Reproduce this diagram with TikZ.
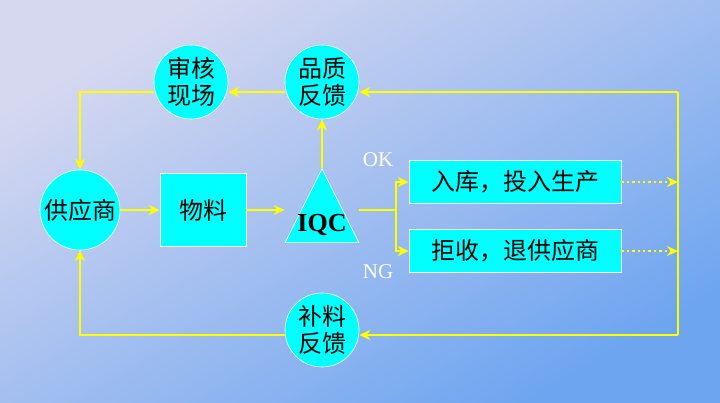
\documentclass[tikz,border=0pt]{standalone}
\usepackage{fontspec}
\setmainfont{Liberation Serif}
\newfontfamily\cjk{Noto Sans CJK SC}
\usetikzlibrary{arrows.meta,shapes.geometric}
\definecolor{ylw}{HTML}{FFFF00}
\definecolor{cyn}{HTML}{00FFFF}
\tikzset{x=1pt,y=-1pt,
 circ/.style={circle,fill=cyn,draw=white,line width=0.6pt,minimum size=74pt,inner sep=0pt,font=\cjk\fontsize{24}{27}\selectfont,align=center},
 boxx/.style={rectangle,fill=cyn,draw=white,line width=0.6pt,font=\cjk\fontsize{24}{27}\selectfont},
 ln/.style={draw=ylw,line width=2.4pt},
 arr/.style={ln,-{Stealth[length=11pt,width=10pt]}},
 dot/.style={draw=ylw,line width=2.4pt,dash pattern=on 2.4pt off 3pt,-{Stealth[length=11pt,width=10pt]}},
 lbl/.style={text=white,font=\fontsize{21}{24}\selectfont}}
\begin{document}
\begin{tikzpicture}
\shade[left color={rgb,255:red,214;green,216;blue,240},right color={rgb,255:red,110;green,165;blue,240},shading angle=30] (0,0) rectangle (720,402);
\useasboundingbox (0,0) rectangle (720,402);
\node[circ] (sh) at (191,82) {审核\\现场};
\node[circ] (pz) at (322,82) {品质\\反馈};
\node[circ,minimum size=80pt] (gy) at (80,210) {供应商};
\node[circ] (bl) at (322,330) {补料\\反馈};
\node[boxx,minimum width=86pt,minimum height=73pt] (wl) at (203,210) {物料};
\node[isosceles triangle,isosceles triangle apex angle=53,shape border rotate=90,fill=cyn,draw=white,line width=0.6pt,minimum height=74pt,inner sep=0pt,anchor=apex] (iqc) at (322,168) {};
\node[font=\bfseries\fontsize{26}{28}\selectfont] (iqct) at (322,225) {IQC};
\node[boxx,minimum width=212pt,minimum height=43pt] (ok) at (515,182) {入库，投入生产};
\node[boxx,minimum width=212pt,minimum height=43pt] (ng) at (515,251) {拒收，退供应商};
\node[lbl] (okl) at (378,160) {OK};
\node[lbl] (ngl) at (378,272) {NG};
\coordinate (rt) at (678,92);
\coordinate (rb) at (678,335);
\coordinate (sp) at (396,210);
\coordinate (tl) at (80,92);
\coordinate (bl2) at (80,335);
\draw[ln] (rt) -- (rb);
\draw[arr] (rt) -- (pz.east |- rt);
\draw[arr] (pz.west |- 0,92) -- (sh.east |- 0,92);
\draw[arr] (sh.west |- 0,92) -- (tl) -- (gy.north);
\draw[arr] (rb) -- (bl.east |- rb);
\draw[arr] (bl.west |- rb) -- (bl2) -- (gy.south);
\draw[arr] (gy.east) -- (wl.west);
\draw[arr] (wl.east) -- (iqc.left corner |- 0,210);
\draw[arr] (iqc.apex) -- (pz.south);
\draw[ln] (iqc.right corner |- 0,210) -- (sp);
\draw[arr] (sp) |- (ok.west);
\draw[arr] (sp) |- (ng.west);
\draw[dot] (ok.east) -- (rt |- ok.east);
\draw[dot] (ng.east) -- (rt |- ng.east);
\end{tikzpicture}
\end{document}
